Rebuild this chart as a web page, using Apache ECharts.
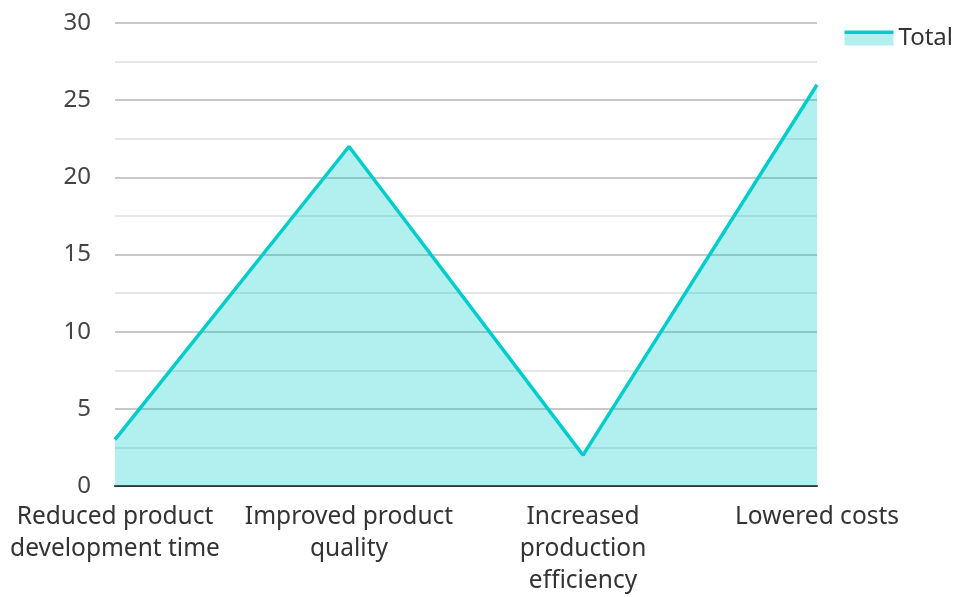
<!DOCTYPE html>
<html><head><meta charset="utf-8">
<script src="https://cdn.jsdelivr.net/npm/echarts@6/dist/echarts.min.js"></script>
<style>html,body{margin:0;padding:0;background:#fff}#c{width:958px;height:597px}</style>
</head><body><div id="c"></div>
<script>
const categories = ["Reduced product\ndevelopment time", "Improved product\nquality", "Increased\nproduction\nefficiency", "Lowered costs"];
const totalValues = [3, 22, 2, 26];
const yTicks = [0, 5, 10, 15, 20, 25, 30];
const seriesName = "Total";

const teal = '#00cccc';
const chart = echarts.init(document.getElementById('c'), null, {renderer: 'canvas'});
chart.setOption({
  animation: false,
  textStyle: {fontFamily: 'Noto Sans'},
  grid: {left: 115, right: 141, top: 23, bottom: 107, containLabel: false},
  legend: {
    show: true, right: 0, top: 21,
    icon: 'rect', itemWidth: 49, itemHeight: 15, itemGap: 10,
    itemStyle: {
      color: {type: 'linear', x: 0, y: 0, x2: 0, y2: 1, colorStops: [
        {offset: 0, color: teal}, {offset: 0.26, color: teal},
        {offset: 0.26, color: '#b2efee'}, {offset: 1, color: '#b2efee'}]},
      borderWidth: 0
    },
    textStyle: {fontSize: 24, color: '#333', fontFamily: 'Noto Sans'},
    data: [seriesName]
  },
  xAxis: {
    type: 'category', data: categories, boundaryGap: false,
    axisLine: {show: true, lineStyle: {color: '#333', width: 2}},
    axisTick: {show: false},
    axisLabel: {fontSize: 24.5, color: '#333', lineHeight: 32, margin: 15, interval: 0, fontFamily: 'Noto Sans'},
    splitLine: {show: false}
  },
  yAxis: {
    type: 'value', min: yTicks[0], max: yTicks[yTicks.length - 1], interval: 5,
    axisLine: {show: false}, axisTick: {show: false},
    axisLabel: {fontSize: 24, color: '#444', margin: 24, fontFamily: 'Noto Sans'},
    splitLine: {show: true, lineStyle: {color: '#c8c8c8', width: 2}},
    minorTick: {show: false, splitNumber: 2},
    minorSplitLine: {show: true, lineStyle: {color: '#e6e6e6', width: 2}}
  },
  series: [{
    name: seriesName, type: 'line', data: totalValues,
    symbol: 'none', showSymbol: false,
    lineStyle: {color: teal, width: 3.5},
    itemStyle: {color: teal},
    areaStyle: {color: teal, opacity: 0.3}
  }]
});
</script></body></html>
